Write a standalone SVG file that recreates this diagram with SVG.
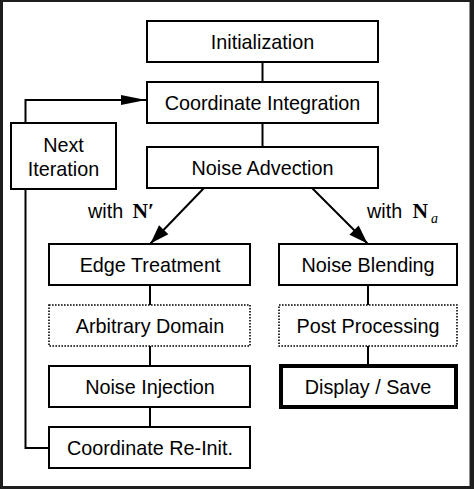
<svg xmlns="http://www.w3.org/2000/svg" width="474" height="489" viewBox="0 0 474 489">
<defs>
<style>
.box{fill:#fff;stroke:#000;stroke-width:2}
.dot{fill:#fff;stroke:#000;stroke-width:1.6;stroke-dasharray:1.6 1.4}
.thick{fill:#fff;stroke:#000;stroke-width:4}
.t{font-family:"Liberation Sans",Arial,sans-serif;font-size:19.8px;fill:#000;text-anchor:middle}
.l{font-family:"Liberation Sans",Arial,sans-serif;font-size:19.8px;fill:#000}
.m{font-family:"Liberation Serif","Times New Roman",serif;font-weight:bold;font-size:21.5px;fill:#000}
.c{fill:none;stroke:#000;stroke-width:2}
</style>
<marker id="ah" markerUnits="userSpaceOnUse" markerWidth="22" markerHeight="16" viewBox="-20 -8 22 16" refX="0" refY="0" orient="auto">
<path d="M0,0 L-19,-6.5 L-19,6.5 Z" fill="#000"/>
</marker>
<marker id="ah2" markerUnits="userSpaceOnUse" markerWidth="28" markerHeight="12" viewBox="-26 -6 28 12" refX="0" refY="0" orient="auto">
<path d="M0,0 L-25,-5 L-25,5 Z" fill="#000"/>
</marker>
</defs>
<rect x="0" y="0" width="474" height="489" fill="#1e1e1e"/>
<rect x="3" y="2" width="466.5" height="484" fill="#fff"/>
<g id="connectors">
<line class="c" x1="262.5" y1="62" x2="262.5" y2="82"/>
<line class="c" x1="262.5" y1="123" x2="262.5" y2="147"/>
<line class="c" x1="150" y1="285" x2="150" y2="305"/>
<line class="c" x1="150" y1="346" x2="150" y2="366"/>
<line class="c" x1="150" y1="407" x2="150" y2="427"/>
<line class="c" x1="368" y1="285" x2="368" y2="305"/>
<line class="c" x1="368" y1="346" x2="368" y2="366"/>
<polyline class="c" points="25.5,189 25.5,448 49,448"/>
<polyline class="c" points="25.5,123 25.5,100 146,100" marker-end="url(#ah2)"/>
<line class="c" x1="204" y1="188" x2="150.5" y2="243.5" marker-end="url(#ah)"/>
<line class="c" x1="312" y1="188" x2="367.5" y2="243.5" marker-end="url(#ah)"/>
<text class="l" x="88" y="218">with</text>
<text class="m" x="132.5" y="218">N′</text>
<text class="l" x="367" y="218">with</text>
<text class="m" x="412.5" y="218">N</text>
<text x="431" y="222.5" font-family="Liberation Serif,'Times New Roman',serif" font-style="italic" font-size="14px" fill="#000">a</text>
</g>
<g id="n-init"><rect class="box" x="147" y="21" width="231" height="41"/><text class="t" x="262.5" y="49">Initialization</text></g>
<g id="n-coordint"><rect class="box" x="147" y="82" width="231" height="41"/><text class="t" x="262.5" y="110">Coordinate Integration</text></g>
<g id="n-advect"><rect class="box" x="147" y="147" width="231" height="41"/><text class="t" x="262.5" y="175">Noise Advection</text></g>
<g id="n-next"><rect class="box" x="11" y="123" width="105" height="66"/><text class="t" x="63.5" y="151.5">Next</text><text class="t" x="63.5" y="175.5">Iteration</text></g>
<g id="n-edge"><rect class="box" x="49" y="244" width="201" height="41"/><text class="t" x="150" y="272">Edge Treatment</text></g>
<g id="n-arbit"><rect class="dot" x="49" y="305" width="201" height="41"/><text class="t" x="150" y="333">Arbitrary Domain</text></g>
<g id="n-inject"><rect class="box" x="49" y="366" width="201" height="41"/><text class="t" x="150" y="394">Noise Injection</text></g>
<g id="n-reinit"><rect class="box" x="49" y="427" width="201" height="41"/><text class="t" x="150" y="455">Coordinate Re-Init.</text></g>
<g id="n-blend"><rect class="box" x="279" y="244" width="178" height="41"/><text class="t" x="368" y="272">Noise Blending</text></g>
<g id="n-post"><rect class="dot" x="279" y="305" width="178" height="41"/><text class="t" x="368" y="333">Post Processing</text></g>
<g id="n-display"><rect class="thick" x="281" y="366" width="175" height="41"/><text class="t" x="368" y="394">Display / Save</text></g>
</svg>
